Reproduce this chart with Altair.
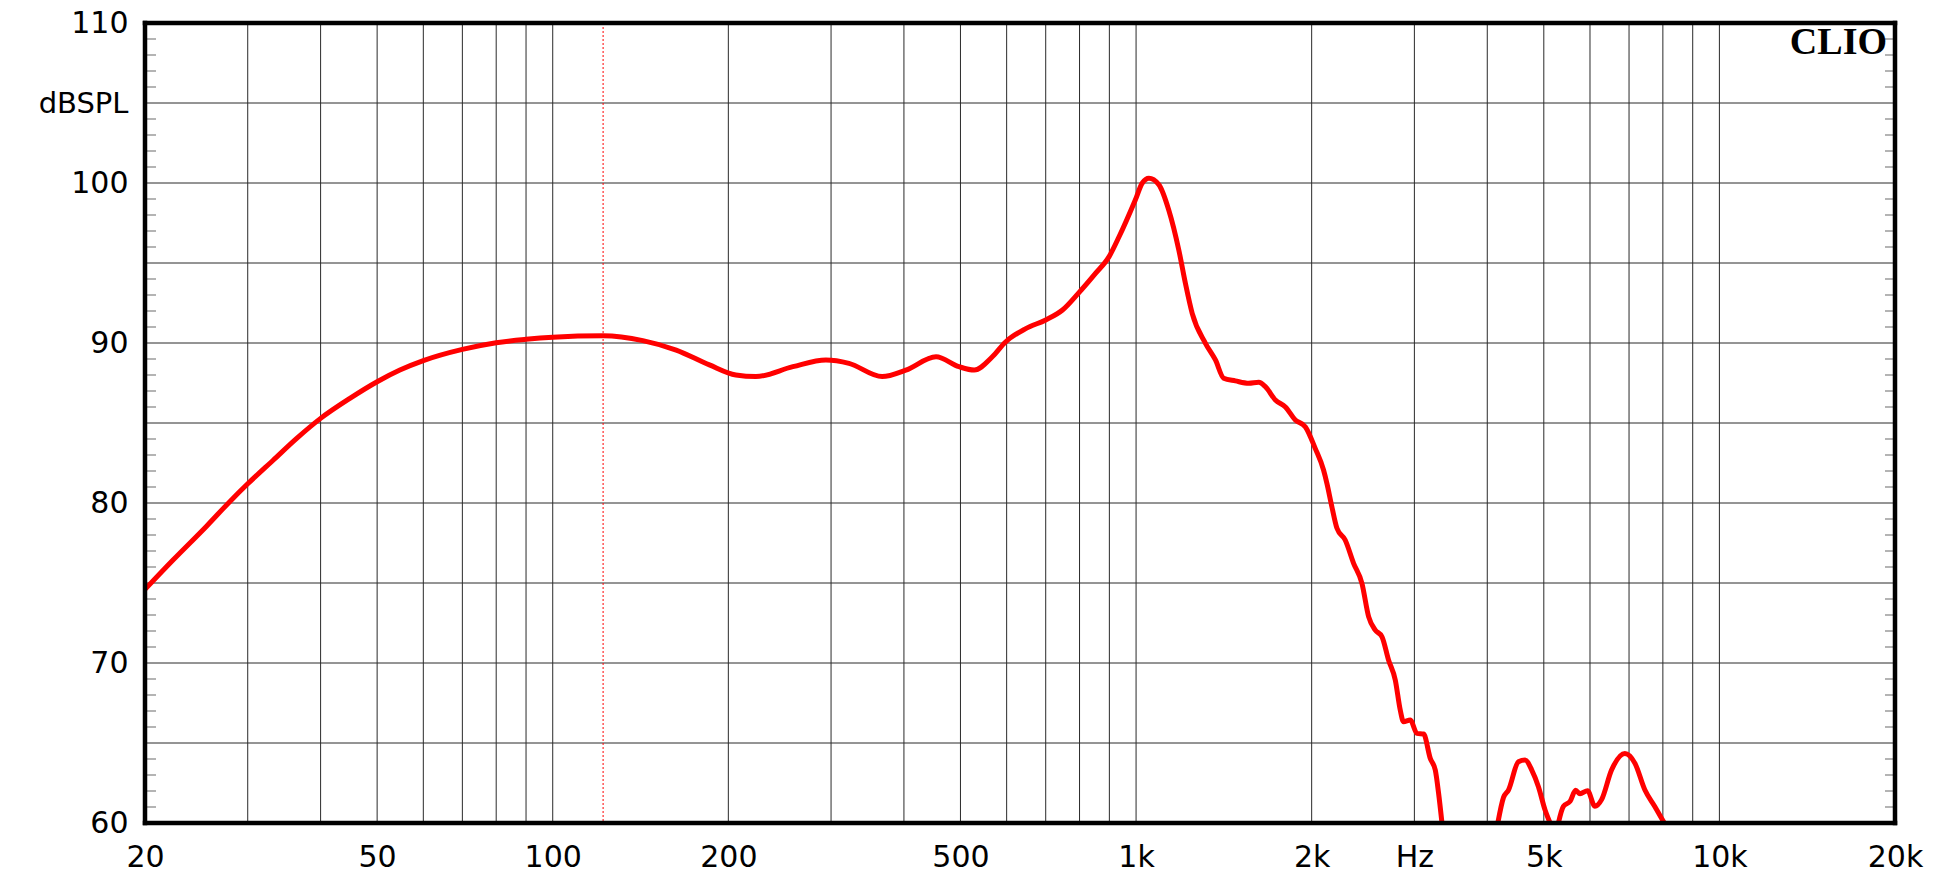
import altair as alt
import pandas as pd

# ---------------- data ----------------
# main segment (20 Hz .. drop below 60 dB near 3.3 kHz)
freq_a = [20, 22.36, 25.5, 27.97, 30, 33.2, 36.4, 40, 44.9, 50, 54.7, 60, 70, 80, 90, 100,
          122, 142.7, 162.8, 185.6, 206, 223, 258, 294, 322, 367, 403, 454, 497, 528, 567,
          598, 647, 700, 748, 796, 852, 899, 935, 997, 1025, 1052, 1094, 1138, 1184, 1215,
          1248, 1315, 1368, 1413, 1480, 1560, 1623, 1666, 1733, 1803, 1875, 1950, 2029,
          2096, 2124, 2166, 2210, 2283, 2360, 2439, 2504, 2571, 2640, 2709, 2782, 2837,
          2874, 2951, 3031, 3111, 3194, 3258, 3301, 3345]
db_a = [74.6, 76.45, 78.55, 80.1, 81.2, 82.69, 84.04, 85.29, 86.54, 87.58, 88.31, 88.9,
        89.6, 90.02, 90.23, 90.36, 90.45, 90.15, 89.56, 88.63, 88.0, 87.9, 88.52, 88.94,
        88.73, 87.9, 88.3, 89.14, 88.52, 88.31, 89.14, 90.08, 90.9, 91.44, 92.06, 93.1,
        94.35, 95.4, 96.64, 98.94, 100.0, 100.3, 99.9, 98.3, 95.8, 93.73, 91.85, 89.98,
        88.94, 87.8, 87.63, 87.48, 87.54, 87.27, 86.44, 86.0, 85.19, 84.77, 83.4, 82.06,
        81.23, 79.77, 78.42, 77.69, 76.23, 74.98, 72.9, 72.06, 71.64, 70.19, 68.94, 67.06,
        66.33, 66.44, 65.6, 65.56, 64.04, 63.31, 61.85, 60.0]
# first high-frequency bump
freq_b = [4170, 4265, 4349, 4524, 4644, 4768, 4895, 5025, 5126]
db_b = [60.0, 61.6, 62.06, 63.83, 63.94, 63.31, 62.27, 60.81, 60.0]
# second high-frequency bump
freq_c = [5296, 5402, 5545, 5670, 5768, 5943, 6118, 6281, 6533, 6887, 7166, 7453, 7753, 8044]
db_c = [60.0, 61.04, 61.35, 62.04, 61.83, 62.02, 61.04, 61.46, 63.31, 64.35, 63.73, 62.06,
        61.02, 60.0]

x_domain = [20, 20000]
y_domain = [60, 110]
x_label_values = [20, 50, 100, 200, 500, 1000, 2000, 3000, 5000, 10000, 20000]
x_label_text = ["20", "50", "100", "200", "500", "1k", "2k", "Hz", "5k", "10k", "20k"]
y_label_values = [60, 70, 80, 90, 100, 105, 110]
y_label_text = ["60", "70", "80", "90", "100", "dBSPL", "110"]
grid_freqs = [30, 40, 50, 60, 70, 80, 90, 100, 200, 300, 400, 500, 600, 700, 800, 900,
              1000, 2000, 3000, 4000, 5000, 6000, 7000, 8000, 9000, 10000]
grid_db = [65, 70, 75, 80, 85, 90, 95, 100, 105]
minor_db = [61, 62, 63, 64, 66, 67, 68, 69, 71, 72, 73, 74, 76, 77, 78, 79, 81, 82, 83, 84,
            86, 87, 88, 89, 91, 92, 93, 94, 96, 97, 98, 99, 101, 102, 103, 104, 106, 107,
            108, 109]
marker_freq = [122]
brand_text = ["CLIO"]

# ---------------- tables ----------------
line_df = pd.DataFrame({
    "freq": freq_a + freq_b + freq_c,
    "db": db_a + db_b + db_c,
    "seg": ["a"] * len(freq_a) + ["b"] * len(freq_b) + ["c"] * len(freq_c),
})
vgrid_df = pd.DataFrame({"freq": grid_freqs})
hgrid_df = pd.DataFrame({"db": grid_db})
minor_df = pd.DataFrame({"db": minor_db})
marker_df = pd.DataFrame({"freq": marker_freq})
xedge_df = pd.DataFrame({"freq": x_domain})
yedge_df = pd.DataFrame({"db": y_domain})
brand_df = pd.DataFrame({"t": brand_text})


def label_expr(values, texts):
    expr = "''"
    for v, t in reversed(list(zip(values, texts))):
        expr = f"datum.value == {v} ? '{t}' : ({expr})"
    return expr


FONT = "DejaVu Sans"
x_scale = alt.Scale(type="log", domain=x_domain, nice=False)
y_scale = alt.Scale(domain=y_domain, nice=False, zero=False)

x_axis = alt.Axis(values=x_label_values, labelExpr=label_expr(x_label_values, x_label_text),
                  grid=False, ticks=False, domain=False, labelFont=FONT, labelFontSize=30,
                  labelColor="black", labelPadding=19, labelBaseline="top", labelAlign="center",
                  labelFlush=False, labelOverlap=False, labelBound=False)
y_axis = alt.Axis(values=y_label_values, labelExpr=label_expr(y_label_values, y_label_text),
                  grid=False, ticks=False, domain=False, labelFont=FONT,
                  labelFontSize={"condition": {"test": "datum.value == 105", "value": 29},
                                 "value": 30},
                  labelColor="black", labelPadding=17, labelBaseline="middle",
                  labelAlign="right", labelFlush=False, labelOverlap=False, labelBound=False)

vgrid = alt.Chart(vgrid_df).mark_rule(color="#2a2a2a", strokeWidth=1).encode(
    x=alt.X("freq:Q", scale=x_scale, axis=x_axis, title=None))
hgrid = alt.Chart(hgrid_df).mark_rule(color="#2a2a2a", strokeWidth=1).encode(
    y=alt.Y("db:Q", scale=y_scale, axis=y_axis, title=None))
left_ticks = alt.Chart(minor_df).mark_tick(orient="horizontal", size=22, thickness=1,
                                           color="#2a2a2a", clip=True).encode(
    y=alt.Y("db:Q", scale=y_scale, title=None), x=alt.XDatum(x_domain[0]))
right_ticks = alt.Chart(minor_df).mark_tick(orient="horizontal", size=20, thickness=1,
                                            color="#2a2a2a", clip=True).encode(
    y=alt.Y("db:Q", scale=y_scale, title=None), x=alt.XDatum(x_domain[1]))
marker = alt.Chart(marker_df).mark_rule(color="#ff0000", strokeWidth=1,
                                        strokeDash=[2, 2]).encode(
    x=alt.X("freq:Q", scale=x_scale, title=None))
curve = alt.Chart(line_df).mark_line(color="#ff0000", strokeWidth=5, clip=True,
                                     interpolate="monotone").encode(
    x=alt.X("freq:Q", scale=x_scale, title=None),
    y=alt.Y("db:Q", scale=y_scale, title=None),
    detail="seg:N")
xedges = alt.Chart(xedge_df).mark_rule(color="black", strokeWidth=4.5,
                                       strokeCap="square").encode(
    x=alt.X("freq:Q", scale=x_scale, title=None))
yedges = alt.Chart(yedge_df).mark_rule(color="black", strokeWidth=4.5,
                                       strokeCap="square").encode(
    y=alt.Y("db:Q", scale=y_scale, title=None))
brand = alt.Chart(brand_df).mark_text(font="Liberation Serif", fontWeight="bold",
                                      fontSize=38, align="right", baseline="top",
                                      dx=-8, dy=1, color="black").encode(
    x=alt.XDatum(x_domain[1]), y=alt.YDatum(y_domain[1]), text="t:N")

chart = alt.layer(vgrid, hgrid, left_ticks, right_ticks, marker, curve, xedges, yedges,
                  brand).properties(
    width=1750, height=800,
    autosize=alt.AutoSizeParams(type="none"),
    padding={"left": 137, "top": 15, "right": 39, "bottom": 50},
    background="white",
).configure_view(stroke=None)

chart.save("out.html", embed_options={"renderer": "svg", "actions": False})
